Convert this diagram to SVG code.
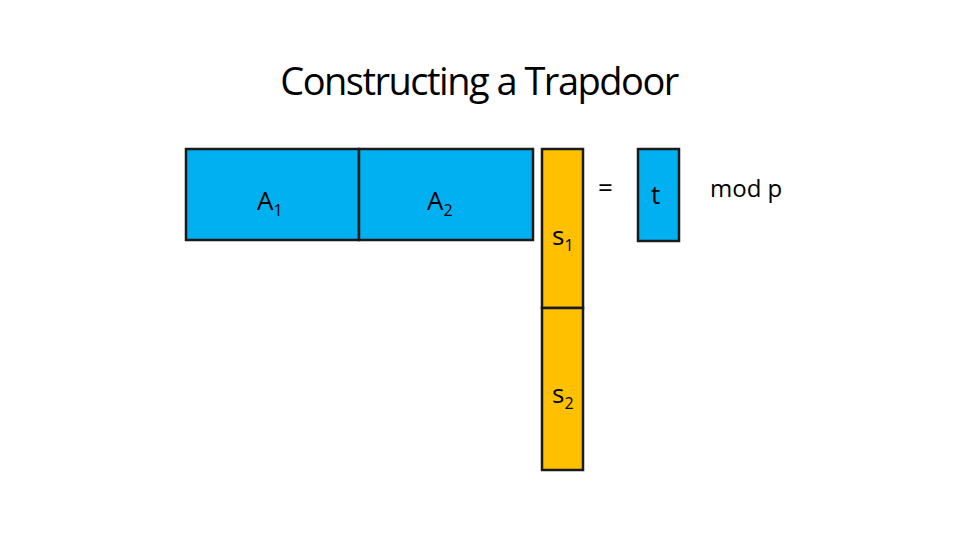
<svg xmlns="http://www.w3.org/2000/svg" width="960" height="540" viewBox="0 0 960 540">
<style>
.b{fill:#00B0F0;stroke:#1a1a1a;stroke-width:2.5}
.o{fill:#FFC000;stroke:#1a1a1a;stroke-width:2.5}
text{font-family:"Open Sans","Liberation Sans",sans-serif;fill:#000}
.l{font-size:26px}
.s{font-size:16px}
</style>
<rect width="960" height="540" fill="#fff"/>
<text x="479" y="95" text-anchor="middle" font-size="38" letter-spacing="-1.5">Constructing a Trapdoor</text>
<g id="A1"><rect class="b" x="186" y="149" width="173" height="91"/><text class="l" x="257" y="210">A<tspan class="s" dy="6">1</tspan></text></g>
<g id="A2"><rect class="b" x="359" y="149" width="174" height="91"/><text class="l" x="427" y="210">A<tspan class="s" dy="6">2</tspan></text></g>
<g id="s1"><rect class="o" x="542" y="149" width="41" height="159"/><text class="l" x="552" y="245">s<tspan class="s" dy="6">1</tspan></text></g>
<g id="s2"><rect class="o" x="542" y="308" width="41" height="162"/><text class="l" x="552" y="403">s<tspan class="s" dy="6">2</tspan></text></g>
<g id="t"><rect class="b" x="638" y="149" width="41" height="92"/><text class="l" x="651" y="204" font-size="24">t</text></g>
<g id="connectors"></g>
<text class="l" x="598" y="197" font-size="22">=</text>
<text x="710" y="197" font-size="24">mod p</text>
</svg>
